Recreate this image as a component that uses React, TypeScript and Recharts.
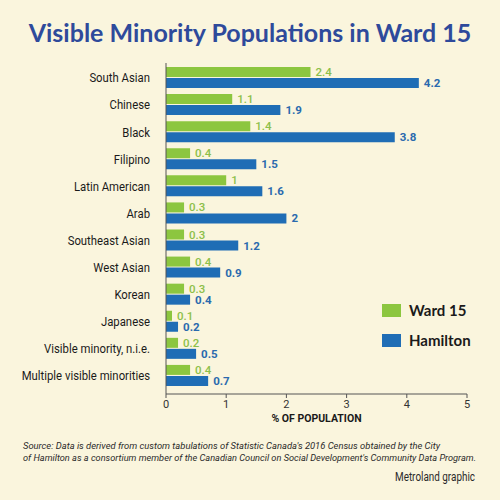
import React from 'react';
import { BarChart, Bar, XAxis, YAxis, LabelList } from 'recharts';

const groups = [
  'South Asian',
  'Chinese',
  'Black',
  'Filipino',
  'Latin American',
  'Arab',
  'Southeast Asian',
  'West Asian',
  'Korean',
  'Japanese',
  'Visible minority, n.i.e.',
  'Multiple visible minorities',
];
const ward15 = [2.4, 1.1, 1.4, 0.4, 1, 0.3, 0.3, 0.4, 0.3, 0.1, 0.2, 0.4];
const hamilton = [4.2, 1.9, 3.8, 1.5, 1.6, 2, 1.2, 0.9, 0.4, 0.2, 0.5, 0.7];
const xTicks = [0, 1, 2, 3, 4, 5];

const data = groups.map((name, i) => ({ name, ward: ward15[i], ham: hamilton[i] }));

const BG = '#faf5dd';
const GREEN = '#8cc63f';
const BLUE = '#1f6db5';
const FONT = 'Roboto, sans-serif';

const legendItems = [
  { label: 'Ward 15', color: GREEN },
  { label: 'Hamilton', color: BLUE },
];

// condensed look for category names: squeeze Roboto horizontally
const CategoryTick = (props: any) => {
  const { x, y, payload } = props;
  return (
    <g transform={`translate(${x},${y})`}>
      <text transform="scale(0.84,1)" textAnchor="end" dy="0.36em" fill="#1a1a1a" fontSize={13.5} fontFamily={FONT}>
        {payload.value}
      </text>
    </g>
  );
};

export default function App() {
  return (
    <div style={{ position: 'absolute', left: 0, top: 0, width: 500, height: 500, background: BG, overflow: 'hidden' }}>
      <div
        style={{
          position: 'absolute',
          top: 17,
          width: 500,
          textAlign: 'center',
          fontFamily: 'Lato, sans-serif',
          fontWeight: 700,
          fontSize: 25,
          color: '#2e4a9b',
        }}
      >
        Visible Minority Populations in Ward 15
      </div>
      <div style={{ position: 'absolute', left: 0, top: 0 }}>
        <BarChart
          width={500}
          height={500}
          data={data}
          layout="vertical"
          margin={{ top: 63, right: 33, left: 0, bottom: 76 }}
          barSize={10}
          barGap={1}
        >
          <XAxis
            type="number"
            domain={[0, 5]}
            ticks={xTicks}
            height={30}
            stroke="#555"
            tickSize={4}
            tick={{ fill: '#333', fontSize: 11, fontFamily: FONT }}
            tickLine={{ stroke: '#555' }}
            label={{
              value: '% OF POPULATION',
              position: 'insideBottom',
              offset: 2,
              fill: '#1a1a1a',
              fontSize: 10.5,
              fontWeight: 700,
              fontFamily: FONT,
            }}
          />
          <YAxis
            type="category"
            dataKey="name"
            width={166}
            stroke="#555"
            tickLine={false}
            tickMargin={10}
            padding={{ top: 1, bottom: 5 }}
            tick={<CategoryTick />}
            interval={0}
          />
          <Bar dataKey="ward" name="Ward 15" fill={GREEN} isAnimationActive={false}>
            <LabelList
              dataKey="ward"
              position="right"
              offset={5}
              fill="#8dbf4a"
              fontSize={11.5}
              fontWeight={500}
              fontFamily={FONT}
            />
          </Bar>
          <Bar dataKey="ham" name="Hamilton" fill={BLUE} isAnimationActive={false}>
            <LabelList
              dataKey="ham"
              position="right"
              offset={5}
              fill="#2a6aae"
              fontSize={11.5}
              fontWeight={700}
              fontFamily={FONT}
            />
          </Bar>
        </BarChart>
      </div>
      {/* legend sits inside the plot's empty lower-right corner */}
      <div
        style={{
          position: 'absolute',
          left: 382,
          top: 295,
          fontFamily: 'Lato, sans-serif',
          fontWeight: 700,
          fontSize: 15,
          color: '#1a1a1a',
        }}
      >
        {legendItems.map((item) => (
          <div key={item.label} style={{ display: 'flex', alignItems: 'center', height: 30 }}>
            <span style={{ width: 19, height: 13, background: item.color, marginRight: 8 }} />
            {item.label}
          </div>
        ))}
      </div>
      <svg width={500} height={60} style={{ position: 'absolute', left: 0, top: 436 }}>
        <g fontFamily={FONT} fontStyle="italic" fontSize={9.5} fill="#2a2a2a">
          <text x={23} y={13} textLength={417} lengthAdjust="spacingAndGlyphs">
            Source: Data is derived from custom tabulations of Statistic Canada's 2016 Census obtained by the City
          </text>
          <text x={23} y={25} textLength={453} lengthAdjust="spacingAndGlyphs">
            of Hamilton as a consortium member of the Canadian Council on Social Development's Community Data Program.
          </text>
        </g>
        <text x={475} y={45} textAnchor="end" fontFamily={FONT} fontSize={12} fill="#2a2a2a" textLength={80} lengthAdjust="spacingAndGlyphs">
          Metroland graphic
        </text>
      </svg>
    </div>
  );
}
